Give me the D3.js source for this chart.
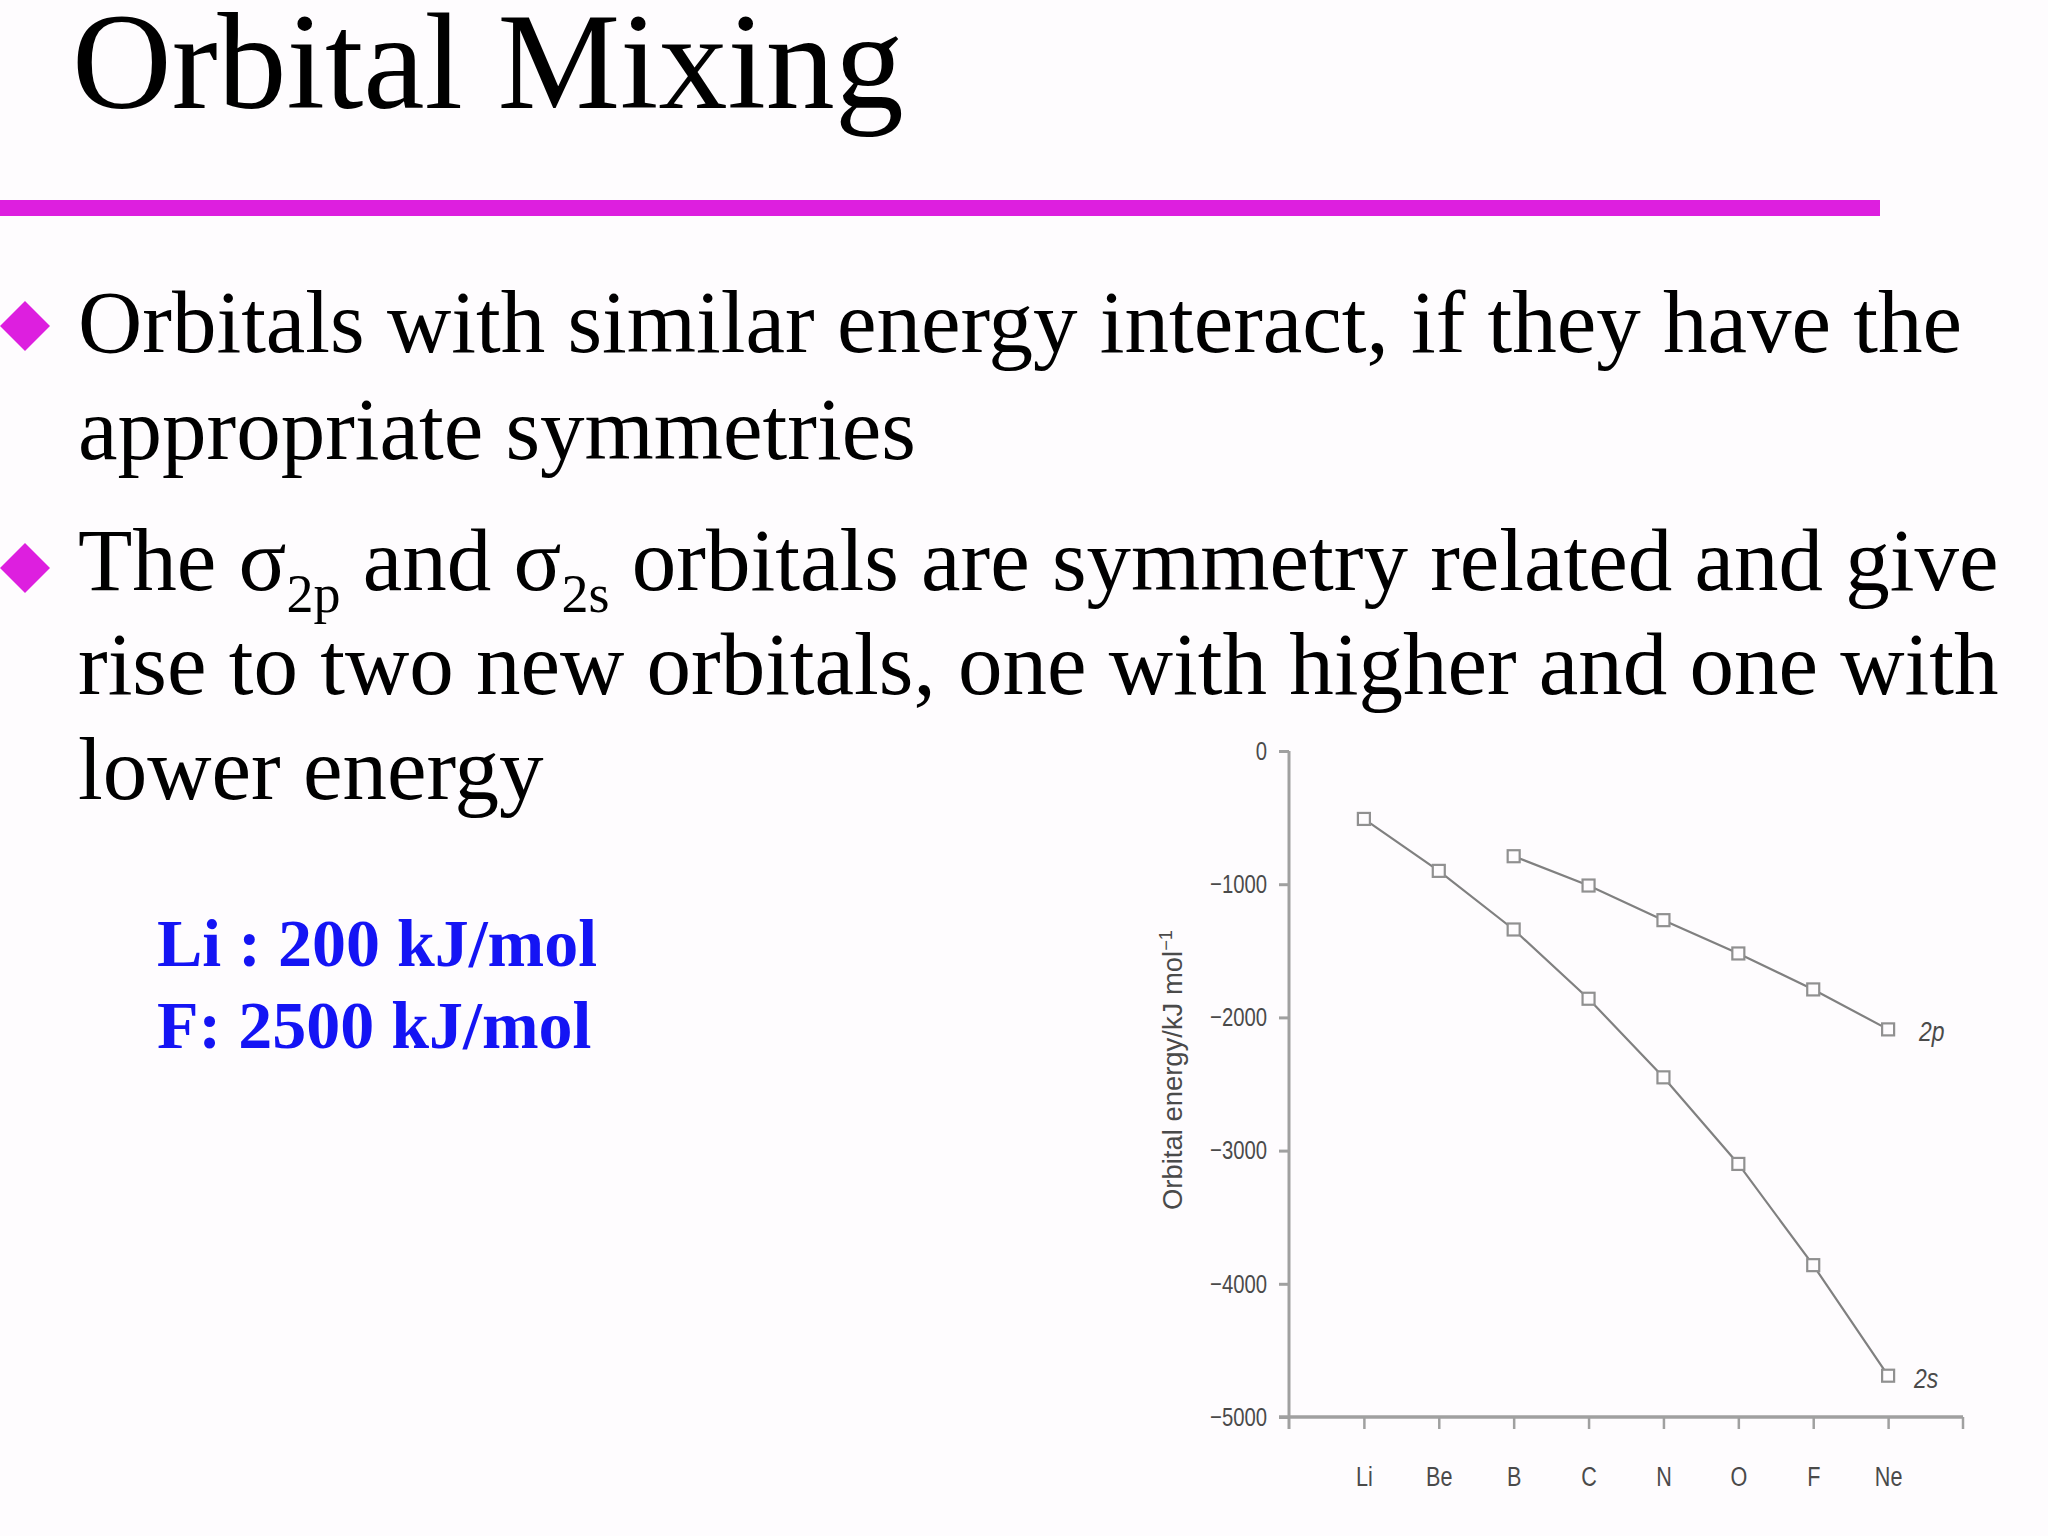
<!DOCTYPE html>
<html>
<head>
<meta charset="utf-8">
<script src="https://cdn.jsdelivr.net/npm/d3@7"></script>
<style>
  body { margin: 0; background: #fefcfe; }
</style>
</head>
<body>
<script>
// orbital energies (kJ/mol)
const elements = ["Li", "Be", "B", "C", "N", "O", "F", "Ne"];
const energy2s = [-510, -900, -1340, -1860, -2450, -3100, -3860, -4690];
const elements2p = ["B", "C", "N", "O", "F", "Ne"];
const energy2p = [-790, -1010, -1270, -1520, -1790, -2090];
const yTicks = [0, -1000, -2000, -3000, -4000, -5000];

const W = 2048, H = 1536;
const magenta = "#dd1fdf";
const chartFont = "'Liberation Sans', Arial, sans-serif";
const serif = "'Liberation Serif', 'Times New Roman', serif";

var svg = d3.select("body").append("svg")
    .attr("width", W)
    .attr("height", H);

svg.append("rect").attr("width", W).attr("height", H).attr("fill", "#fefcfe");

// title + rule
svg.append("text")
    .attr("x", 72).attr("y", 108)
    .attr("font-family", serif)
    .attr("font-size", 138)
    .attr("fill", "#000")
    .text("Orbital Mixing");

svg.append("rect")
    .attr("x", 0).attr("y", 200)
    .attr("width", 1880).attr("height", 16)
    .attr("fill", magenta);

// bullets
function diamond(cy) {
    svg.append("path")
        .attr("d", "M0,-25L25,0L0,25L-25,0Z")
        .attr("transform", "translate(25," + cy + ")")
        .attr("fill", magenta);
}
diamond(326);
diamond(568);

function line(y, parts) {
    var t = svg.append("text")
        .attr("x", 78).attr("y", y)
        .attr("font-family", serif)
        .attr("font-size", 89)
        .attr("fill", "#000");
    var back = 0;
    parts.forEach(function(p) {
        if (typeof p === "string") {
            t.append("tspan").attr("dy", back).text(p);
            back = 0;
        } else {
            // subscript; the next piece moves back up
            t.append("tspan").attr("font-size", 54).attr("dy", 22).text(p.sub);
            back = -22;
        }
    });
    return t;
}
line(352, ["Orbitals with similar energy interact, if they have the"]);
line(459, ["appropriate symmetries"]);
line(590, ["The \u03c3", {sub: "2p"}, " and \u03c3", {sub: "2s"}, " orbitals are symmetry related and give"]);
line(694, ["rise to two new orbitals, one with higher and one with"]);
line(799, ["lower energy"]);

// blue notes
svg.append("text")
    .attr("x", 157).attr("y", 966)
    .attr("font-family", serif).attr("font-weight", "bold")
    .attr("font-size", 68).attr("fill", "#1414f4")
    .text("Li : 200 kJ/mol");
svg.append("text")
    .attr("x", 157).attr("y", 1048)
    .attr("font-family", serif).attr("font-weight", "bold")
    .attr("font-size", 68).attr("fill", "#1414f4")
    .text("F: 2500 kJ/mol");

// ---- chart ----
var x = d3.scalePoint()
    .domain(elements)
    .range([1289, 1963])
    .padding(1);

var y = d3.scaleLinear()
    .domain([-5000, 0])
    .range([1417, 751]);

var axisColor = "#a0a0a0";
var textColor = "#4a4a4a";

// squeeze chart text like the narrow font of the original figure
function narrow(sel, k) {
    sel.each(function() {
        var len = this.getComputedTextLength();
        d3.select(this)
            .attr("textLength", len * k)
            .attr("lengthAdjust", "spacingAndGlyphs");
    });
}

// y axis
var yAxis = svg.append("g")
    .attr("transform", "translate(" + x.range()[0] + ",0)")
    .call(d3.axisLeft(y)
        .tickValues(yTicks)
        .tickSize(10)
        .tickSizeOuter(0)
        .tickPadding(12)
        .tickFormat(function(d) { return d === 0 ? "0" : "\u2212" + Math.abs(d); }));
yAxis.select(".domain").remove();
yAxis.selectAll("line").attr("stroke", axisColor).attr("stroke-width", 3);
yAxis.selectAll("text")
    .attr("font-family", chartFont)
    .attr("font-size", 26)
    .attr("fill", textColor)
    .call(narrow, 0.78);

svg.append("line")
    .attr("x1", x.range()[0]).attr("x2", x.range()[0])
    .attr("y1", y(0)).attr("y2", y(-5000) + 12)
    .attr("stroke", axisColor).attr("stroke-width", 3);

// x axis
var xAxis = svg.append("g")
    .attr("transform", "translate(0," + y(-5000) + ")")
    .call(d3.axisBottom(x)
        .tickSize(12)
        .tickSizeOuter(0)
        .tickPadding(38));
xAxis.select(".domain").remove();
xAxis.selectAll("line").attr("stroke", axisColor).attr("stroke-width", 2.5);
xAxis.selectAll("text")
    .attr("font-family", chartFont)
    .attr("font-size", 27)
    .attr("fill", textColor)
    .call(narrow, 0.8);

svg.append("line")
    .attr("x1", x.range()[0] - 10).attr("x2", x.range()[1])
    .attr("y1", y(-5000)).attr("y2", y(-5000))
    .attr("stroke", axisColor).attr("stroke-width", 3.5);
svg.append("line")
    .attr("x1", x.range()[1]).attr("x2", x.range()[1])
    .attr("y1", y(-5000)).attr("y2", y(-5000) + 12)
    .attr("stroke", axisColor).attr("stroke-width", 2.5);

// y axis title
var yt = svg.append("text")
    .attr("transform", "translate(1182," + (y(-2500) - 14) + ") rotate(-90)")
    .attr("text-anchor", "middle")
    .attr("font-family", chartFont)
    .attr("font-size", 27)
    .attr("fill", textColor)
    .attr("textLength", 280)
    .attr("lengthAdjust", "spacingAndGlyphs");
yt.append("tspan").text("Orbital energy/kJ mol");
yt.append("tspan").attr("dy", -10).attr("font-size", 18).text("\u22121");

// series
var s2 = elements.map(function(e, i) { return {el: e, v: energy2s[i]}; });
var p2 = elements2p.map(function(e, i) { return {el: e, v: energy2p[i]}; });

var lineGen = d3.line()
    .x(function(d) { return x(d.el); })
    .y(function(d) { return y(d.v); });

[s2, p2].forEach(function(series) {
    svg.append("path")
        .datum(series)
        .attr("d", lineGen)
        .attr("fill", "none")
        .attr("stroke", "#808080")
        .attr("stroke-width", 2.2);

    svg.selectAll(null)
        .data(series)
        .enter()
            .append("rect")
            .attr("x", function(d) { return x(d.el) - 6; })
            .attr("y", function(d) { return y(d.v) - 6; })
            .attr("width", 12)
            .attr("height", 12)
            .attr("fill", "#fefcfe")
            .attr("stroke", "#909090")
            .attr("stroke-width", 2.2);
});

// series labels
svg.append("text")
    .attr("x", x("Ne") + 31).attr("y", y(energy2p[energy2p.length - 1]) + 12)
    .attr("font-family", chartFont).attr("font-size", 27)
    .attr("font-style", "italic")
    .attr("fill", textColor)
    .text("2p")
    .call(narrow, 0.85);
svg.append("text")
    .attr("x", x("Ne") + 26).attr("y", y(energy2s[energy2s.length - 1]) + 12)
    .attr("font-family", chartFont).attr("font-size", 27)
    .attr("font-style", "italic")
    .attr("fill", textColor)
    .text("2s")
    .call(narrow, 0.85);
</script>
</body>
</html>
